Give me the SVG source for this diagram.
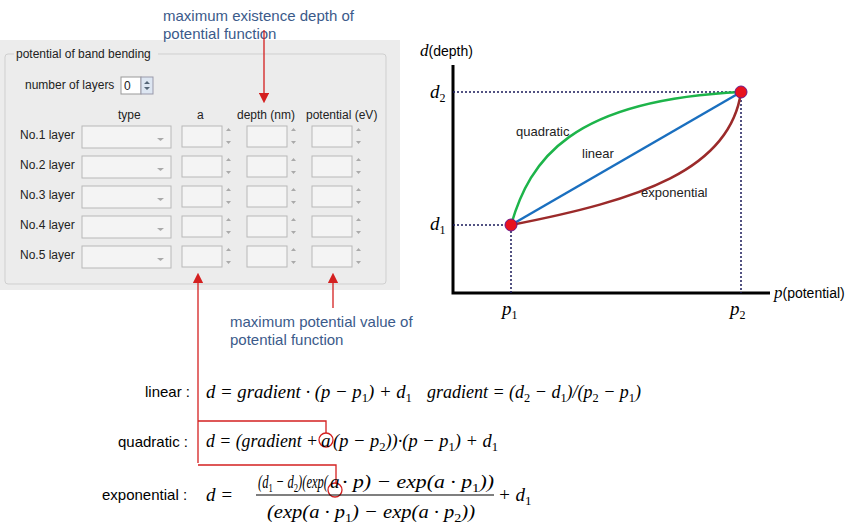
<svg xmlns="http://www.w3.org/2000/svg" width="856" height="526" viewBox="0 0 856 526">
<style>
.s{font-family:"Liberation Sans",Arial,sans-serif;font-size:12px;fill:#222}
.b{font-family:"Liberation Sans",Arial,sans-serif;font-size:15px;fill:#3b5a8a}
.m{font-family:"Liberation Serif","Times New Roman","DejaVu Serif",serif;font-size:19px;font-style:italic;fill:#000}
.n{font-style:normal}
.l{font-family:"Liberation Sans",Arial,sans-serif;font-size:15px;fill:#000}
.box{fill:#f4f4f4;stroke:#b8b8b8}
.sp{fill:#aaa}
.red{stroke:#d42020;fill:none;stroke-width:1.3}
.dot{stroke:#1a1a5a;stroke-dasharray:2 2;stroke-width:1.5;fill:none}
</style>
<defs><marker id="ar" markerWidth="8" markerHeight="8" refX="4" refY="4" orient="auto"><path d="M0,0L8,4L0,8z" fill="#d42020"/></marker>
<g id="row"><rect class="box" x="82" y="126" width="89" height="22"/><path class="sp" d="M157,138h7l-3.5,3z"/><rect class="box" x="182" y="126" width="40" height="21"/><rect class="box" x="247" y="126" width="40" height="21"/><rect class="box" x="312" y="126" width="40" height="21"/>
<path class="sp" d="M226,131h5l-2.5,-3zM226,141h5l-2.5,3zM291,131h5l-2.5,-3zM291,141h5l-2.5,3zM356,131h5l-2.5,-3zM356,141h5l-2.5,3z"/></g></defs>
<rect width="856" height="526" fill="#fff"/>
<g id="panel">
<rect x="0" y="40" width="400" height="250" fill="#ececec"/>
<rect x="5" y="54" width="381" height="230" rx="3" fill="none" stroke="#cfcfcf"/>
<rect x="14" y="47" width="144" height="14" fill="#ececec"/>
<text class="s" x="16" y="58">potential of band bending</text>
<text class="s" x="25" y="89">number of layers</text>
<rect x="121" y="77" width="20" height="17" fill="#fff" stroke="#999"/>
<text class="s" x="124" y="90">0</text>
<rect x="141" y="77" width="12" height="17" fill="#dde6f2" stroke="#99a"/>
<path d="M144,84h6l-3,-3zM144,87h6l-3,3z" fill="#567"/>
<text class="s" x="118" y="119">type</text>
<text class="s" x="197" y="119">a</text>
<text class="s" x="237" y="119">depth (nm)</text>
<text class="s" x="306" y="119">potential (eV)</text>
<g id="rows">
<g><text class="s" x="20" y="139">No.1 layer</text><use href="#row"/></g>
<g transform="translate(0,30)"><text class="s" x="20" y="139">No.2 layer</text><use href="#row"/></g>
<g transform="translate(0,60)"><text class="s" x="20" y="139">No.3 layer</text><use href="#row"/></g>
<g transform="translate(0,90)"><text class="s" x="20" y="139">No.4 layer</text><use href="#row"/></g>
<g transform="translate(0,120)"><text class="s" x="20" y="139">No.5 layer</text><use href="#row"/></g>
</g>
</g>
<g id="labels">
<text class="b" x="163" y="21">maximum existence depth of</text>
<text class="b" x="163" y="39">potential function</text>
<text class="b" x="230" y="327">maximum potential value of</text>
<text class="b" x="230" y="345">potential function</text>
</g>
<g id="connectors">
<path class="red" d="M264,30V98" marker-end="url(#ar)"/>
<path class="red" d="M333,308V278" marker-end="url(#ar)"/>
<path class="red" d="M198,463V278" marker-end="url(#ar)"/>
<path class="red" d="M198,421H326V433"/>
<path class="red" d="M198,465H336V484"/>
<circle class="red" cx="326" cy="440" r="7"/>
<circle class="red" cx="335" cy="490" r="7"/>
</g>
<g id="chart">
<path d="M453,65V293H770" stroke="#000" stroke-width="3" fill="none"/>
<path class="dot" d="M453,92H741V293M453,225H511V293"/>
<path d="M511,225C530,160 570,100 741,92" stroke="#1db44a" stroke-width="2.5" fill="none"/>
<path d="M511,225L741,92" stroke="#1a6fbf" stroke-width="2.5" fill="none"/>
<path d="M511,225C640,200 730,170 741,92" stroke="#9b2a2a" stroke-width="2.5" fill="none"/>
<circle cx="511" cy="225" r="6" fill="#e8121e" stroke="#6a1a8a"/>
<circle cx="741" cy="92" r="6" fill="#e8121e" stroke="#6a1a8a"/>
<text class="s" x="516" y="136" style="font-size:13px">quadratic</text>
<text class="s" x="582" y="158" style="font-size:13px">linear</text>
<text class="s" x="641" y="197" style="font-size:13px">exponential</text>
<text class="m" x="420" y="56" style="font-size:17px">d<tspan font-style="normal" font-family="Liberation Sans" font-size="14">(depth)</tspan></text>
<text class="m" x="774" y="298" style="font-size:17px">p<tspan font-style="normal" font-family="Liberation Sans" font-size="14">(potential)</tspan></text>
<text class="m" x="430" y="98">d<tspan font-size="12" class="n" dy="4">2</tspan></text>
<text class="m" x="430" y="230">d<tspan font-size="12" class="n" dy="4">1</tspan></text>
<text class="m" x="502" y="315">p<tspan font-size="12" class="n" dy="4">1</tspan></text>
<text class="m" x="730" y="315">p<tspan font-size="12" class="n" dy="4">2</tspan></text>
</g>
<g id="formulas">
<text class="l" x="145" y="397">linear :</text>
<text class="m" x="206" y="398" textLength="206" lengthAdjust="spacingAndGlyphs">d = gradient · (p − p<tspan font-size="13" class="n" dy="4">1</tspan><tspan dy="-4">) + d</tspan><tspan font-size="13" class="n" dy="4">1</tspan></text>
<text class="m" x="427" y="398" textLength="214" lengthAdjust="spacingAndGlyphs">gradient = (d<tspan font-size="13" class="n" dy="4">2</tspan><tspan dy="-4"> − d</tspan><tspan font-size="13" class="n" dy="4">1</tspan><tspan dy="-4">)/(p</tspan><tspan font-size="13" class="n" dy="4">2</tspan><tspan dy="-4"> − p</tspan><tspan font-size="13" class="n" dy="4">1</tspan><tspan dy="-4">)</tspan></text>
<text class="l" x="118" y="447">quadratic :</text>
<text class="m" x="206" y="447" textLength="112" lengthAdjust="spacingAndGlyphs">d = (gradient +</text>
<text class="m" x="321" y="447">a</text>
<text class="m" x="333" y="447" textLength="165" lengthAdjust="spacingAndGlyphs">(p − p<tspan font-size="13" class="n" dy="4">2</tspan><tspan dy="-4">))·(p − p</tspan><tspan font-size="13" class="n" dy="4">1</tspan><tspan dy="-4">) + d</tspan><tspan font-size="13" class="n" dy="4">1</tspan></text>
<text class="l" x="102" y="500">exponential :</text>
<text class="m" x="206" y="501">d =</text>
<text class="m" x="258" y="488" textLength="70" lengthAdjust="spacingAndGlyphs">(d<tspan font-size="13" class="n" dy="4">1</tspan><tspan dy="-4"> − d</tspan><tspan font-size="13" class="n" dy="4">2</tspan><tspan dy="-4">)(exp(</tspan></text>
<text class="m" x="330" y="488">a</text>
<text class="m" x="342" y="488" textLength="152" lengthAdjust="spacingAndGlyphs">· p) − exp(a · p<tspan font-size="13" class="n" dy="4">1</tspan><tspan dy="-4">))</tspan></text>
<line x1="256" y1="495" x2="494" y2="495" stroke="#000" stroke-width="1.2"/>
<text class="m" x="267" y="518" textLength="208" lengthAdjust="spacingAndGlyphs">(exp(a · p<tspan font-size="13" class="n" dy="4">1</tspan><tspan dy="-4">) − exp(a · p</tspan><tspan font-size="13" class="n" dy="4">2</tspan><tspan dy="-4">))</tspan></text>
<text class="m" x="498" y="501">+ d<tspan font-size="13" class="n" dy="4">1</tspan></text>
</g>
</svg>
